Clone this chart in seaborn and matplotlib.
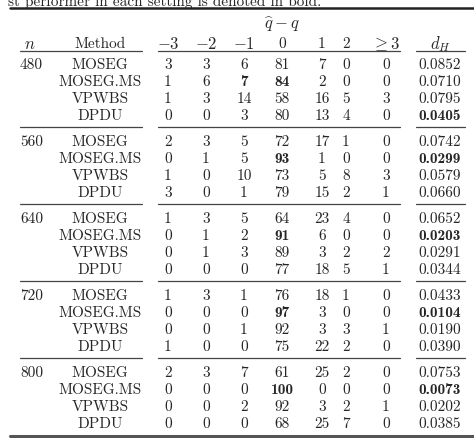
import matplotlib
matplotlib.use("Agg")
import matplotlib.pyplot as plt
import seaborn as sns

sns.set_style("white")
plt.rcParams["font.family"] = ["cmr10", "DejaVu Serif"]
plt.rcParams["mathtext.fontset"] = "cm"
plt.rcParams["axes.unicode_minus"] = False

# data
sizes = ["480", "560", "640", "720", "800"]
methods = ["MOSEG", "MOSEG.MS", "VPWBS", "DPDU"]
diff_labels = ["$-3$", "$-2$", "$-1$", "0", "1", "2", r"$\geq 3$"]
counts = [
    [[3, 3, 6, 81, 7, 0, 0], [1, 6, 7, 84, 2, 0, 0], [1, 3, 14, 58, 16, 5, 3], [0, 0, 3, 80, 13, 4, 0]],
    [[2, 3, 5, 72, 17, 1, 0], [0, 1, 5, 93, 1, 0, 0], [1, 0, 10, 73, 5, 8, 3], [3, 0, 1, 79, 15, 2, 1]],
    [[1, 3, 5, 64, 23, 4, 0], [0, 1, 2, 91, 6, 0, 0], [0, 1, 3, 89, 3, 2, 2], [0, 0, 0, 77, 18, 5, 1]],
    [[1, 3, 1, 76, 18, 1, 0], [0, 0, 0, 97, 3, 0, 0], [0, 0, 1, 92, 3, 3, 1], [1, 0, 0, 75, 22, 2, 0]],
    [[2, 3, 7, 61, 25, 2, 0], [0, 0, 0, 100, 0, 0, 0], [0, 0, 2, 92, 3, 2, 1], [0, 0, 0, 68, 25, 7, 0]],
]
d_h = [
    [0.0852, 0.0710, 0.0795, 0.0405],
    [0.0742, 0.0299, 0.0579, 0.0660],
    [0.0652, 0.0203, 0.0291, 0.0344],
    [0.0433, 0.0104, 0.0190, 0.0390],
    [0.0753, 0.0073, 0.0202, 0.0385],
]
bold_cells = [(0, 1, 2)]  # extra bold count (group, method, column)

fig = plt.figure(figsize=(4.74, 4.39), dpi=100)
ax = fig.add_axes([0, 0, 1, 1])
ax.set_xlim(0, 474)
ax.set_ylim(439, 0)
ax.axis("off")

fs = 11
col_x = [168, 206, 244, 282, 322, 346, 386]
lc = "#444444"


def txt(x, y, s, bold=False, ha="center", size=fs):
    fam = ["cmb10", "DejaVu Serif"] if bold else ["cmr10", "DejaVu Serif"]
    ax.text(x, y, s, fontsize=size, ha=ha, va="center", family=fam)


txt(8, 2, "st performer in each setting is denoted in bold.", ha="left")
ax.plot([10, 474], [9, 9], color="#222222", lw=1.8)
txt(282, 24, r"$\widehat{q}-q$", size=fs + 1)
txt(30, 44, "$n$", size=fs + 1)
txt(100, 44, "Method")
for x, lab in zip(col_x, diff_labels):
    txt(x, 44, lab, size=fs + 1 if "$" in lab else fs)
txt(440, 44, "$d_H$", size=fs + 1)


def rules(y):
    ax.plot([20, 142], [y, y], color=lc, lw=0.9)
    ax.plot([158, 400], [y, y], color=lc, lw=0.9)
    ax.plot([416, 465], [y, y], color=lc, lw=0.9)


rules(52)
y0 = 65
for g, n in enumerate(sizes):
    base = y0 + g * 77
    txt(20, base, n, ha="left")
    best = min(range(len(methods)), key=lambda i: d_h[g][i])
    top0 = max(r[3] for r in counts[g])
    for m, name in enumerate(methods):
        y = base + m * 17
        txt(100, y, name)
        for c, (x, v) in enumerate(zip(col_x, counts[g][m])):
            bold = (c == 3 and v == top0) or (g, m, c) in bold_cells
            txt(x, y, str(v), bold=bold)
        txt(440, y, f"{d_h[g][m]:.4f}", bold=(m == best))
    if g < len(sizes) - 1:
        rules(base + 63)
ax.plot([10, 474], [437, 437], color="#555555", lw=2.2)

fig.savefig("out.png", dpi=100)
